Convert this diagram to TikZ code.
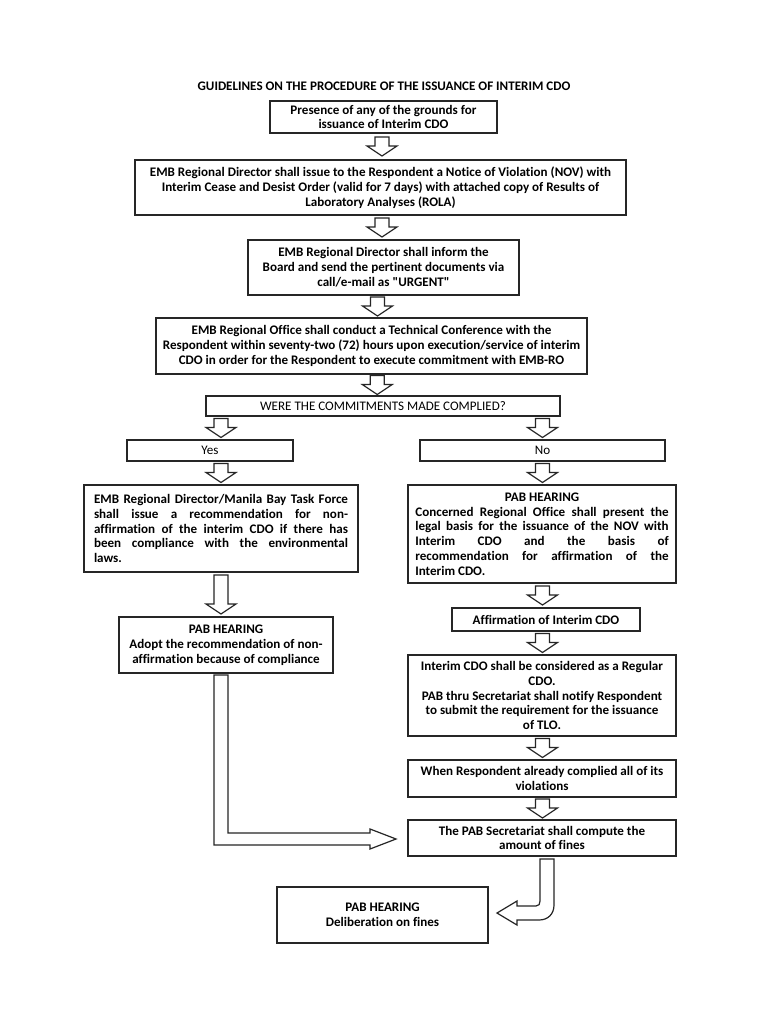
\documentclass[tikz,border=0pt]{standalone}
\usepackage{fontspec}
\setmainfont{Carlito}[Ligatures={TeXOff,NoCommon}]
\usetikzlibrary{calc}
\tikzset{
  every picture/.style={x=0.75pt,y=-0.75pt},
  bx/.style={draw=black!85, line width=0.9pt, fill=white, inner sep=0pt, align=center,
    font=\bfseries\fontsize{9.8}{11.1}\selectfont},
  bxr/.style={bx, font=\fontsize{9.8}{11.1}\selectfont},
  jbox/.style={draw=black!85, line width=0.9pt, fill=white, inner sep=0pt, align=justify,
    font=\bfseries\fontsize{9.8}{11.1}\selectfont},
  arr/.style={draw=black!85, line width=0.9pt, fill=white, line join=miter},
  pics/dnarr/.style={code={
    \draw[arr] (-7,{-#1/2}) -- (7,{-#1/2}) -- (7,{#1/2-10}) -- (15,{#1/2-10}) -- (0,{#1/2})
      -- (-15,{#1/2-10}) -- (-7,{#1/2-10}) -- cycle;}}
}
\begin{document}
\begin{tikzpicture}
\useasboundingbox[fill=white] (0,0) rectangle (768,1024);

\node[font=\bfseries\fontsize{9.8}{11.1}\selectfont] (title) at (384,86)
  {GUIDELINES ON THE PROCEDURE OF THE ISSUANCE OF INTERIM CDO};

\node[bx, minimum width=170.25pt, minimum height=24pt] (b1) at (383.5,117)
  {Presence of any of the grounds for\\issuance of Interim CDO};
\node[bx, minimum width=368.25pt, minimum height=41.25pt] (b2) at (380.5,187.5)
  {EMB Regional Director shall issue to the Respondent a Notice of Violation (NOV) with\\
   Interim Cease and Desist Order (valid for 7 days) with attached copy of Results of\\
   Laboratory Analyses (ROLA)};
\node[bx, minimum width=203.25pt, minimum height=41.25pt] (b3) at (383.5,267.5)
  {EMB Regional Director shall inform the\\
   Board and send the pertinent documents via\\
   call/e-mail as "URGENT"};
\node[bx, minimum width=323.25pt, minimum height=42pt] (b4) at (371.5,346)
  {EMB Regional Office shall conduct a Technical Conference with the\\
   Respondent within seventy-two (72) hours upon execution/service of interim\\
   CDO in order for the Respondent to execute commitment with EMB-RO};
\node[bxr, minimum width=265.5pt, minimum height=15pt] (b5) at (383,406)
  {WERE THE COMMITMENTS MADE COMPLIED?};
\node[bxr, minimum width=124.5pt, minimum height=15.75pt] (yes) at (210,450.5) {Yes};
\node[bxr, minimum width=183.75pt, minimum height=15.75pt] (no) at (542.5,450.5) {No};

\node[jbox, minimum width=205.5pt, minimum height=65.25pt, text width=190.5pt] (l1) at (221,528.5)
  {EMB Regional Director/Manila Bay Task Force\linebreak
   shall issue a recommendation for non-\linebreak
   affirmation of the interim CDO if there has\linebreak
   been compliance with the environmental\linebreak
   laws.};
\node[jbox, minimum width=201pt, minimum height=73.5pt, text width=190pt] (r1) at (542,534)
  {{\centering PAB HEARING\par}
   Concerned Regional Office shall present the\linebreak
   legal basis for the issuance of the NOV with\linebreak
   Interim CDO and the basis of\linebreak
   recommendation for affirmation of the\linebreak
   Interim CDO.};

\node[bx, minimum width=160.5pt, minimum height=42pt] (l2) at (226,645)
  {PAB HEARING\\Adopt the recommendation of non-\\affirmation because of compliance};
\node[bx, minimum width=141pt, minimum height=17.25pt] (r2) at (546,619.5)
  {Affirmation of Interim CDO};
\node[bx, minimum width=201pt, minimum height=60.75pt] (r3) at (542,695.5)
  {Interim CDO shall be considered as a Regular\\CDO.\\
   PAB thru Secretariat shall notify Respondent\\
   to submit the requirement for the issuance\\of TLO.};
\node[bx, minimum width=201pt, minimum height=27.75pt] (r4) at (542,778.5)
  {When Respondent already complied all of its\\violations};
\node[bx, minimum width=201pt, minimum height=27pt] (r5) at (542,838)
  {The PAB Secretariat shall compute the\\amount of fines};
\node[bx, minimum width=158.25pt, minimum height=42pt] (fin) at (382.5,915)
  {PAB HEARING\\Deliberation on fines};

% block arrows
\path ($(b1.south)!0.5!(b2.north)$) pic {dnarr=19};
\path ($(b2.south)!0.5!(b3.north)$) pic {dnarr=19};
\path ($(b3.south)!0.5!(b4.north)$) pic {dnarr=19};
\path ($(b4.south)!0.5!(b5.north)$) pic {dnarr=19};
\path ($(b5.south -| l1.north)!0.5!(yes.north -| l1.north)$) pic {dnarr=19};
\path ($(b5.south -| no.north)!0.5!(no.north)$) pic {dnarr=19};
\path ($(yes.south -| l1.north)!0.5!(l1.north)$) pic {dnarr=19};
\path ($(no.south)!0.5!(r1.north -| no.south)$) pic {dnarr=19};
\path ($(l1.south)!0.5!(l2.north -| l1.south)$) pic {dnarr=39};
\path ($(r1.south -| no.south)!0.5!(r2.north -| no.south)$) pic {dnarr=19};
\path ($(r2.south -| no.south)!0.5!(r3.north -| no.south)$) pic {dnarr=19};
\path ($(r3.south -| no.south)!0.5!(r4.north -| no.south)$) pic {dnarr=19};
\path ($(r4.south -| no.south)!0.5!(r5.north -| no.south)$) pic {dnarr=19};

% L-shaped arrow from left column to fines computation
\draw[arr] (214,675) -- (228,675) -- (228,833) -- (370,833) -- (370,829) -- (396,839)
  -- (370,849) -- (370,845) -- (214,845) -- cycle;

% curved arrow from computation to final hearing
\draw[arr] (540,859) -- (554,859) -- (554,905) .. controls (554,914) and (548,920) .. (539,920)
  -- (517,920) -- (517,925) -- (497,913) -- (517,901) -- (517,906) -- (536,906)
  .. controls (539,906) and (540,904) .. (540,901) -- cycle;
\end{tikzpicture}
\end{document}
